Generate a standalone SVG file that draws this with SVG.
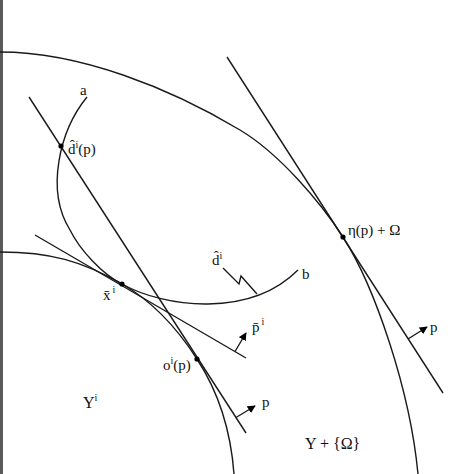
<svg xmlns="http://www.w3.org/2000/svg" width="474" height="474" viewBox="0 0 474 474">
<defs>
<style>
.c{fill:none;stroke:#1a1a1a;stroke-width:1.4}
.t{font-family:"Liberation Serif","Times New Roman",serif;font-size:15px;fill:#111}
.s{font-size:10px}
.dot{fill:#000}
</style>
<marker id="ah" viewBox="0 0 10 10" refX="9" refY="5" markerWidth="8" markerHeight="8" markerUnits="userSpaceOnUse" orient="auto">
<path d="M0,0 L10,5 L0,10 z" fill="#000"/>
</marker>
</defs>
<rect x="0" y="0" width="474" height="474" fill="#fff"/>
<rect x="0" y="0" width="3" height="474" fill="#5a5a5a"/>
<g id="connectors">
<path id="outer" class="c" d="M0,52 C80,52 170,88 240,130 C280,154 321,203 343,237 C375,287 410,390 418,474"/>
<path id="inner" class="c" d="M0,252 C50,252 82,261 122,284 C152,301 177,328 197,359 C212,382 230,420 234,474"/>
<path id="curveab" class="c" d="M87,97 C60,130 45,190 70,230 C80,250 102,274 122,284 C165,308 250,318 298,270"/>
<line class="c" x1="35" y1="235" x2="246" y2="358"/>
<line class="c" x1="29" y1="97" x2="246" y2="433"/>
<line class="c" x1="227" y1="57" x2="443" y2="393"/>
<polyline class="c" points="223,268 239,284 241,276 257,294"/>
<line class="c" x1="235" y1="351.5" x2="246" y2="333" marker-end="url(#ah)"/>
<line class="c" x1="236" y1="417.5" x2="255" y2="406" marker-end="url(#ah)"/>
<line class="c" x1="408" y1="339" x2="427" y2="327" marker-end="url(#ah)"/>
</g>
<g id="dot-dp"><circle class="dot" cx="61" cy="146" r="2.6"/><text class="t" x="68" y="154">d̂<tspan class="s" dy="-6">i</tspan><tspan dy="6">(p)</tspan></text></g>
<g id="dot-xbar"><circle class="dot" cx="122" cy="284" r="2.6"/><text class="t" x="103" y="300">x̄<tspan class="s" dx="2" dy="-7">i</tspan></text></g>
<g id="dot-o"><circle class="dot" cx="197" cy="359" r="2.6"/><text class="t" x="163" y="370">o<tspan class="s" dy="-6">i</tspan><tspan dy="6">(p)</tspan></text></g>
<g id="dot-eta"><circle class="dot" cx="343" cy="237" r="2.6"/><text class="t" x="348" y="235">η(p) + Ω</text></g>
<g id="label-a"><text class="t" x="80" y="95">a</text></g>
<g id="label-b"><text class="t" x="302" y="279">b</text></g>
<g id="label-dhat"><text class="t" x="212" y="265">d̂<tspan class="s" dy="-6">i</tspan></text></g>
<g id="label-pbar"><text class="t" x="252" y="332">p̄<tspan class="s" dx="2" dy="-7">i</tspan></text></g>
<g id="label-p1"><text class="t" x="262" y="407">p</text></g>
<g id="label-p2"><text class="t" x="430" y="332">p</text></g>
<g id="label-Yi"><text class="t" x="83" y="408" style="font-size:16px">Y<tspan class="s" dy="-7">i</tspan></text></g>
<g id="label-Y"><text class="t" x="305" y="449" style="font-size:16px">Y + {Ω}</text></g>
</svg>
